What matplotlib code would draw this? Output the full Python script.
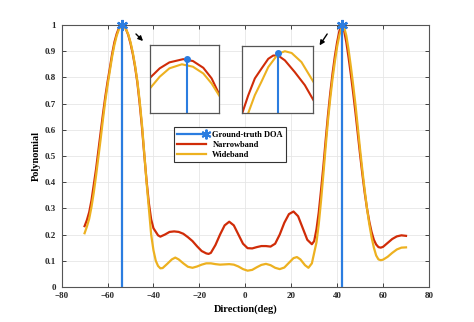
import matplotlib
matplotlib.use("Agg")
import matplotlib.pyplot as plt
from matplotlib.lines import Line2D
from matplotlib.legend_handler import HandlerBase
from matplotlib.patches import FancyArrowPatch

plt.rcParams['font.family'] = ['Liberation Serif', 'DejaVu Serif']
plt.rcParams['font.weight'] = 'bold'

# ---------------- data ----------------
doa = [-53.5, 42.0]

nb_x = [-70, -69, -68, -67, -66, -65, -64, -63, -62, -61, -60, -59, -58, -57, -56, -55, -54, -53, -52, -51,
        -50, -49, -48, -47, -46, -45, -44, -43, -42, -41, -40, -38, -37, -35, -33, -31, -29, -27, -25, -23,
        -21, -19, -17, -16, -15, -13, -11, -9, -7, -5, -3, -1, 1, 3, 5, 7, 9, 11, 13, 15,
        17, 19, 21, 23, 25, 27, 29, 30, 31, 32, 33, 34, 35, 36, 37, 38, 39, 40, 41, 42,
        43, 44, 45, 46, 47, 48, 49, 50, 51, 52, 53, 54, 55, 56, 57, 58, 59, 60, 62, 64,
        66, 68, 70]
nb_y = [0.232, 0.255, 0.285, 0.33, 0.39, 0.45, 0.52, 0.59, 0.66, 0.725, 0.783, 0.835, 0.89, 0.935, 0.967, 0.99, 1.0, 0.997, 0.985, 0.963,
        0.93, 0.89, 0.84, 0.78, 0.70, 0.61, 0.505, 0.405, 0.32, 0.258, 0.224, 0.197, 0.192, 0.200, 0.210, 0.212, 0.210, 0.203, 0.190, 0.175,
        0.155, 0.137, 0.128, 0.126, 0.130, 0.160, 0.200, 0.235, 0.249, 0.235, 0.200, 0.165, 0.148, 0.147, 0.152, 0.156, 0.156, 0.154, 0.165, 0.200,
        0.245, 0.278, 0.288, 0.270, 0.225, 0.180, 0.163, 0.175, 0.22, 0.285, 0.37, 0.46, 0.56, 0.655, 0.74, 0.815, 0.88, 0.935, 0.978, 1.0,
        0.98, 0.935, 0.875, 0.81, 0.74, 0.665, 0.585, 0.505, 0.43, 0.36, 0.30, 0.25, 0.21, 0.18, 0.162, 0.152, 0.150, 0.153, 0.168, 0.183,
        0.193, 0.197, 0.195]

wb_x = [-70, -69, -68, -67, -66, -65, -64, -63, -62, -61, -60, -59, -58, -57, -56, -55, -54, -53, -52, -51,
        -50, -49, -48, -47, -46, -45, -44, -43, -42, -41, -40, -39, -38, -37, -36, -34, -32, -30.5, -29, -27,
        -25, -23, -21, -19, -17, -15, -13, -11, -9, -7, -5, -3, -1, 1, 3, 5, 7, 9, 11, 13,
        15, 17, 19, 21, 22.5, 24, 26, 27.5, 29, 30, 31, 32, 33, 34, 35, 36, 37, 38, 39, 40,
        41, 42, 43, 44, 45, 46, 47, 48, 49, 50, 51, 52, 53, 54, 55, 56, 57, 58, 59, 60,
        62, 64, 66, 68, 70]
wb_y = [0.205, 0.23, 0.26, 0.305, 0.36, 0.425, 0.495, 0.565, 0.64, 0.71, 0.77, 0.825, 0.88, 0.925, 0.96, 0.985, 0.997, 0.996, 0.985, 0.965,
        0.935, 0.895, 0.845, 0.785, 0.71, 0.62, 0.51, 0.40, 0.30, 0.20, 0.14, 0.10, 0.080, 0.071, 0.072, 0.088, 0.105, 0.112, 0.105, 0.090,
        0.077, 0.073, 0.078, 0.085, 0.090, 0.090, 0.087, 0.085, 0.086, 0.087, 0.085, 0.078, 0.068, 0.062, 0.065, 0.075, 0.084, 0.088, 0.083, 0.073,
        0.068, 0.074, 0.092, 0.110, 0.114, 0.105, 0.083, 0.073, 0.090, 0.13, 0.17, 0.24, 0.33, 0.43, 0.535, 0.635, 0.72, 0.795, 0.86, 0.918,
        0.962, 0.99, 0.993, 0.96, 0.905, 0.84, 0.77, 0.695, 0.61, 0.525, 0.445, 0.37, 0.30, 0.24, 0.19, 0.15, 0.12, 0.105, 0.102, 0.104,
        0.115, 0.130, 0.143, 0.150, 0.151]

# zoomed peak around -53.5
zl_nb_x = [-56.2, -55.5, -54.8, -53.8, -53.1, -52.35, -51.75, -51.2]
zl_nb_y = [0.9929, 0.9964, 0.9986, 0.9998, 0.9991, 0.9966, 0.9927, 0.9868]
zl_wb_x = [-56.2, -55.5, -54.8, -53.9, -53.1, -52.35, -51.75, -51.2]
zl_wb_y = [0.9890, 0.9933, 0.9964, 0.9979, 0.9970, 0.9945, 0.9908, 0.9863]

# zoomed peak around 42
zr_nb_x = [40.2, 40.5, 40.84, 41.17, 41.52, 41.77, 42.02, 42.36, 42.86, 43.37, 43.8]
zr_nb_y = [0.965, 0.9753, 0.9853, 0.9909, 0.9967, 0.9986, 0.9986, 0.9958, 0.9890, 0.9814, 0.9728]
zr_wb_x = [40.5, 40.84, 41.17, 41.52, 42.02, 42.36, 42.7, 43.2, 43.8]
zr_wb_y = [0.965, 0.9756, 0.9833, 0.9919, 0.9996, 1.0011, 1.0001, 0.9948, 0.9834]

xticks = [-80, -60, -40, -20, 0, 20, 40, 60, 80]
yticks = [0, 0.1, 0.2, 0.3, 0.4, 0.5, 0.6, 0.7, 0.8, 0.9, 1]
ytick_labels = ['0', '0.1', '0.2', '0.3', '0.4', '0.5', '0.6', '0.7', '0.8', '0.9', '1']

blue = '#2b7de0'
red = '#d02c08'
yellow = '#edb120'
star = (6, 2, 0)


class EndMarkerHandler(HandlerBase):
    def create_artists(self, legend, orig_handle, xdescent, ydescent, width, height, fontsize, trans):
        y = height / 2 - ydescent
        ln = Line2D([-xdescent, width - xdescent], [y, y], color=orig_handle.get_color(),
                    lw=orig_handle.get_linewidth())
        mk = Line2D([width - xdescent], [y], marker=star, color=orig_handle.get_color(),
                    ms=7, mew=1.4, lw=0)
        ln.set_transform(trans)
        mk.set_transform(trans)
        return [ln, mk]


# ---------------- figure ----------------
fig = plt.figure(figsize=(4.74, 3.22), dpi=100)
ax = fig.add_axes([0.130, 0.109, 0.775, 0.813])

ax.plot(nb_x, nb_y, color=red, lw=1.6, zorder=3)
ax.plot(wb_x, wb_y, color=yellow, lw=1.6, zorder=4)
for d in doa:
    ax.plot([d, d], [0, 1], color=blue, lw=1.6, zorder=5)
    ax.plot([d], [1], marker=star, color=blue, ms=8, mew=1.6, zorder=6, clip_on=False)

ax.set_xlim(-80, 80)
ax.set_ylim(0, 1)
ax.set_xticks(xticks)
ax.set_yticks(yticks)
ax.set_yticklabels(ytick_labels)
ax.tick_params(direction='in', top=True, right=True, labelsize=6.5, length=3, width=0.6,
               colors='#262626', pad=4)
for lab in ax.get_xticklabels() + ax.get_yticklabels():
    lab.set_fontweight('bold')
ax.grid(True, color='#e6e6e6', lw=0.6)
ax.set_axisbelow(True)
for s in ax.spines.values():
    s.set_color('#555555')
    s.set_linewidth(0.8)
ax.set_xlabel('Direction(deg)', fontsize=7.5, fontweight='bold', labelpad=3)
ax.set_ylabel('Polynomial', fontsize=7.5, fontweight='bold', labelpad=3)

h_doa = Line2D([], [], color=blue, lw=1.6)
h_nb = Line2D([], [], color=red, lw=1.6)
h_wb = Line2D([], [], color=yellow, lw=1.6)
leg = ax.legend([h_doa, h_nb, h_wb], ['Ground-truth DOA', 'Narrowband', 'Wideband'],
                handler_map={h_doa: EndMarkerHandler()},
                loc='upper left', bbox_to_anchor=(0.306, 0.609), borderaxespad=0,
                prop={'size': 6, 'weight': 'bold'}, handlelength=3.4, handletextpad=0.8,
                labelspacing=0.25, borderpad=0.4, frameon=True, fancybox=False, framealpha=1)
leg.get_frame().set_edgecolor('#333333')
leg.get_frame().set_linewidth(0.8)

# insets
axl = fig.add_axes([0.3165, 0.650, 0.146, 0.210])
axl.plot(zl_nb_x, zl_nb_y, color=red, lw=1.5)
axl.plot(zl_wb_x, zl_wb_y, color=yellow, lw=1.5)
axl.plot([doa[0], doa[0]], [0.9, 1.0], color=blue, lw=1.5)
axl.plot([doa[0]], [1.0], marker='o', color=blue, ms=4)
axl.set_xlim(-56.2, -51.2)
axl.set_ylim(0.98, 1.005)

axr = fig.add_axes([0.511, 0.648, 0.150, 0.210])
axr.plot(zr_nb_x, zr_nb_y, color=red, lw=1.5)
axr.plot(zr_wb_x, zr_wb_y, color=yellow, lw=1.5)
axr.plot([doa[1], doa[1]], [0.9, 1.0], color=blue, lw=1.5)
axr.plot([doa[1]], [1.0], marker='o', color=blue, ms=4)
axr.set_xlim(40.2, 43.8)
axr.set_ylim(0.965, 1.0043)

for a in (axl, axr):
    a.set_xticks([])
    a.set_yticks([])
    for s in a.spines.values():
        s.set_color('#555555')
        s.set_linewidth(0.9)

# arrows
fig.add_artist(FancyArrowPatch((0.2827, 0.9006), (0.3059, 0.8665), transform=fig.transFigure,
                               arrowstyle='-|>', mutation_scale=7, color='black', lw=1.0))
fig.add_artist(FancyArrowPatch((0.6935, 0.9016), (0.6709, 0.8519), transform=fig.transFigure,
                               arrowstyle='-|>', mutation_scale=7, color='black', lw=1.0))

fig.savefig('out.png', dpi=100)
